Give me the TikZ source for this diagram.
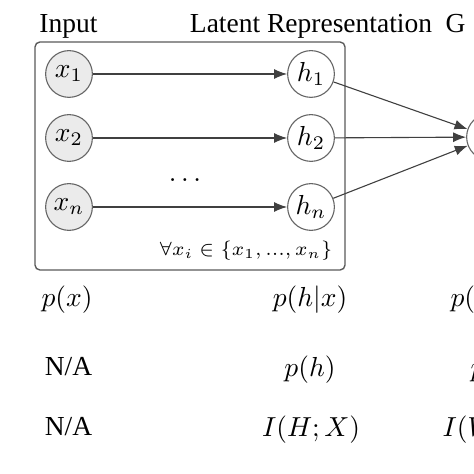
\documentclass[tikz,border=0pt]{standalone}
\usepackage{fontspec}
\setmainfont{Liberation Serif}
\usetikzlibrary{arrows.meta}

\tikzset{
  obs/.style={circle, draw=black!60, fill=black!8, minimum size=17pt, inner sep=0pt},
  lat/.style={circle, draw=black!60, fill=white, minimum size=17pt, inner sep=0pt},
  edge/.style={draw=black!75, -{Latex[length=4.7pt,width=3.6pt]}},
}

\begin{document}
\begin{tikzpicture}[x=0.3636pt, y=-0.3636pt]
  \clip (0,0) rectangle (474,474);

  % headers
  \node[anchor=base] (input) at (68.5,33) {Input};
  \node[anchor=base] (latent) at (311,33) {Latent Representation};
  \node[anchor=base west, inner sep=0pt] (glob) at (445,33) {G};

  % plate
  \draw[black!65, line width=0.5pt, rounded corners=1.8pt] (35,42) rectangle (345,270);
  \node[anchor=base east, inner sep=0pt, font=\fontsize{7.4}{9}\selectfont] (plate) at (333,256)
    {$\forall x_i \in \{x_1, ..., x_n\}$};

  \node[obs] (x1) at (69,74) {$x_1$};
  \node[obs] (x2) at (69,138) {$x_2$};
  \node[obs] (xn) at (69,207) {$x_n$};

  \node[lat] (h1) at (311,74) {$h_1$};
  \node[lat] (h2) at (311,138) {$h_2$};
  \node[lat] (hn) at (311,207) {$h_n$};

  \node[anchor=base] (dots) at (185,182) {$\dots$};

  \node[lat] (g) at (490,137) {};

  \draw[edge] (x1) -- (h1);
  \draw[edge] (x2) -- (h2);
  \draw[edge] (xn) -- (hn);
  \draw[edge] (h1) -- (g);
  \draw[edge] (h2) -- (g);
  \draw[edge] (hn) -- (g);

  % rows
  \node[anchor=base] (px) at (67,306) {$p(x)$};
  \node[anchor=base] (na1) at (68.5,375) {N/A};
  \node[anchor=base] (na2) at (68.5,435) {N/A};

  \node[anchor=base] (phx) at (310,306) {$p(h|x)$};
  \node[anchor=base] (ph) at (310,376) {$p(h)$};
  \node[anchor=base] (ihx) at (311,436) {$I(H;X)$};

  \node[anchor=base west, inner sep=0pt] (pg) at (450,306) {$p($};
  \node[anchor=base west, inner sep=0pt] (pg2) at (470,376) {$p$};
  \node[anchor=base west, inner sep=0pt] (iw) at (442,436) {$I(W$};
\end{tikzpicture}
\end{document}
